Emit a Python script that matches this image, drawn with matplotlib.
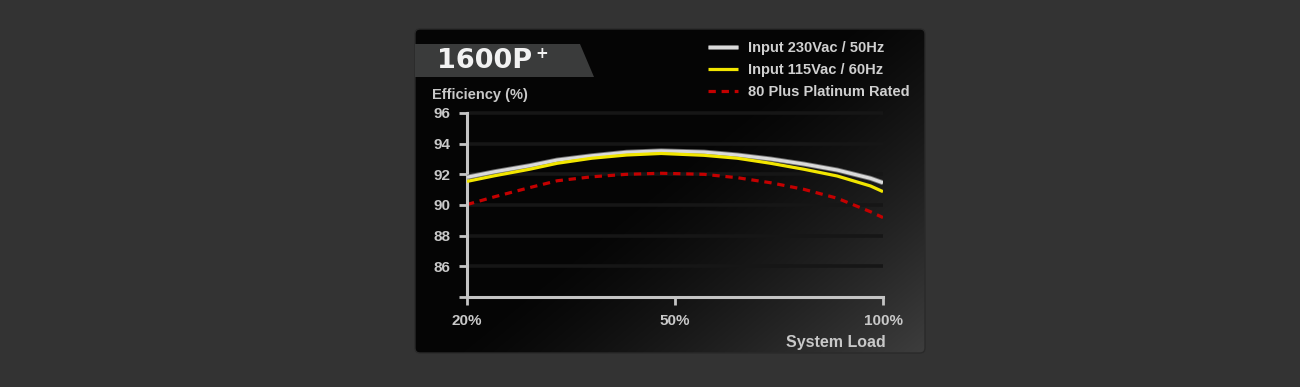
import numpy as np
import matplotlib
matplotlib.use("Agg")
import matplotlib.pyplot as plt
from matplotlib.patches import FancyBboxPatch, Polygon
import matplotlib.patheffects as pe

# =========================
# DATA
# =========================
LOAD = [20, 24, 29, 33, 38, 43, 48, 57, 65, 73, 81, 89, 97, 100]
EFF_230V = [91.81, 92.17, 92.56, 92.93, 93.21, 93.44, 93.53, 93.45, 93.26, 93.00,
            92.67, 92.28, 91.74, 91.45]
EFF_115V = [91.54, 91.91, 92.33, 92.72, 93.05, 93.26, 93.36, 93.24, 93.05, 92.72,
            92.33, 91.89, 91.24, 90.87]
EFF_PLATINUM = [90.03, 90.54, 91.13, 91.58, 91.84, 92.00, 92.07, 92.00, 91.78, 91.45,
                91.02, 90.44, 89.56, 89.18]

X_TICKS = [20, 50, 100]
X_TICK_LABELS = ['20%', '50%', '100%']
Y_TICKS = [84, 86, 88, 90, 92, 94, 96]
Y_TICK_LABELS = ['', '86', '88', '90', '92', '94', '96']
SERIES_NAMES = ['Input 230Vac / 50Hz', 'Input 115Vac / 60Hz', '80 Plus Platinum Rated']

# =========================
# STYLE
# =========================
W, H = 1300, 387
FIG_BG = '#333333'
TXT = '#c8c8c8'
AXIS_COL = '#c4c4c4'
FONT = 'Liberation Sans'

fig = plt.figure(figsize=(W / 100, H / 100), dpi=100, facecolor=FIG_BG)

# background layer in pixel coordinates
bg = fig.add_axes([0, 0, 1, 1])
bg.set_xlim(0, W)
bg.set_ylim(H, 0)
bg.axis('off')

# panel with dark gradient towards bottom right
px0, px1, py0, py1 = 415, 925, 29, 353
u = np.linspace(0, 1, 300)[None, :]
v = np.linspace(0, 1, 200)[:, None]
g = np.clip((0.9 * u + 0.7 * v - 0.75) / 0.85, 0, 1) ** 1.3
shade = 0.02 + 0.22 * g
img = np.dstack([shade, shade, shade])
panel = FancyBboxPatch((px0, py0), px1 - px0, py1 - py0,
                       boxstyle="round,pad=0,rounding_size=5",
                       facecolor='none', edgecolor='#2a2a2a', lw=1)
bg.add_patch(panel)
im = bg.imshow(img, extent=(px0, px1, py1, py0), aspect='auto', interpolation='bilinear')
im.set_clip_path(panel)

# model badge
badge = Polygon([(415, 44), (580, 44), (594, 77), (415, 77)], closed=True,
                facecolor='#3a3b3b', edgecolor='none')
bg.add_patch(badge)
model_txt = bg.text(437, 61.5, '1600P', color='#f2f2f2', fontsize=19.5, fontweight='bold',
                    family='DejaVu Sans', va='center', ha='left')
bg.annotate('+', xy=(1, 1), xycoords=model_txt, xytext=(2, 2), textcoords='offset points',
            color='#f2f2f2', fontsize=11, fontweight='bold', family='DejaVu Sans',
            va='top', ha='left')

bg.text(432, 95, 'Efficiency (%)', color=TXT, fontsize=10.5, fontweight='bold',
        family=FONT, va='center', ha='left')
bg.text(886, 342, 'System Load', color=TXT, fontsize=11.5, fontweight='bold',
        family=FONT, va='center', ha='right')

# =========================
# CHART
# =========================
ax = fig.add_axes([467 / W, 1 - 297 / H, (883 - 467) / W, (297 - 113) / H])
ax.set_facecolor('none')


def fwd(x):
    return np.interp(x, X_TICKS, [0, 1, 2])


def inv(x):
    return np.interp(x, [0, 1, 2], X_TICKS)


ax.set_xscale('function', functions=(fwd, inv))
ax.set_xlim(20, 100)
ax.set_ylim(84, 96)

ax.hlines(Y_TICKS[1:], 20, 100, colors='#161616', lw=2.6, zorder=0, clip_on=False)

white_fx = [pe.Stroke(linewidth=3.6, foreground='#707070'), pe.Normal()]
l1, = ax.plot(LOAD, EFF_230V, color='#dadada', lw=2.3, solid_capstyle='butt',
              solid_joinstyle='round', label=SERIES_NAMES[0], zorder=3, path_effects=white_fx)
l2, = ax.plot(LOAD, EFF_115V, color='#f2e600', lw=2.3, solid_capstyle='butt',
              solid_joinstyle='round', label=SERIES_NAMES[1], zorder=4)
l3, = ax.plot(LOAD, EFF_PLATINUM, color='#c40000', lw=2.3, ls=(0, (2.3, 1.8)),
              label=SERIES_NAMES[2], zorder=2)

for side in ['top', 'right']:
    ax.spines[side].set_visible(False)
for side in ['left', 'bottom']:
    ax.spines[side].set_color(AXIS_COL)
    ax.spines[side].set_linewidth(2.2)

ax.set_yticks(Y_TICKS)
ax.set_yticklabels(Y_TICK_LABELS)
ax.set_xticks(X_TICKS)
ax.set_xticklabels(X_TICK_LABELS)
ax.minorticks_off()
ax.tick_params(axis='both', direction='out', length=6, width=2, color=AXIS_COL,
               labelcolor=TXT, labelsize=11, pad=6)
for lab in ax.get_xticklabels() + ax.get_yticklabels():
    lab.set_fontweight('bold')
    lab.set_family(FONT)

leg = fig.legend(handles=[l1, l2, l3], loc='upper left',
                 bbox_to_anchor=(708 / W, 1 - 41 / H), frameon=False,
                 handlelength=2.05, handletextpad=0.7, labelspacing=0.55,
                 borderpad=0, borderaxespad=0,
                 prop={'family': FONT, 'weight': 'bold', 'size': 10.5},
                 labelcolor='#d0d0d0')

fig.savefig('out.png', dpi=100, facecolor=FIG_BG)
